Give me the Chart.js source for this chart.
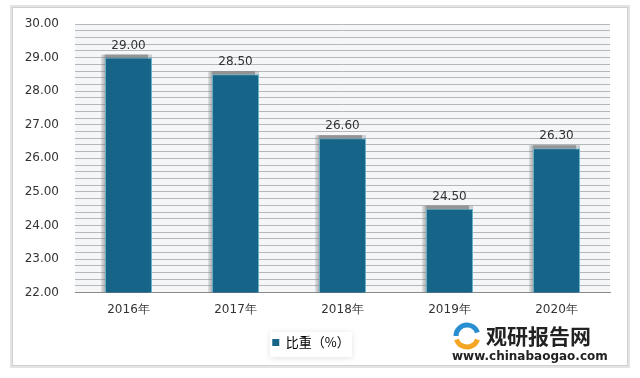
<!DOCTYPE html>
<html><head><meta charset="utf-8">
<script src="https://cdn.jsdelivr.net/npm/chart.js@4/dist/chart.umd.min.js"></script>
<style>html,body{margin:0;padding:0;background:#fff}#wrap{width:640px;height:378px}</style>
</head><body><div id="wrap"><canvas id="c" width="640" height="378"></canvas></div>
<script>
const categories = ['2016年','2017年','2018年','2019年','2020年'];
const shareValues = [29.00, 28.50, 26.60, 24.50, 26.30];
const seriesName = '比重（%）';
const yMin = 22, yMax = 30;

const FONT = '"DejaVu Sans", Verdana, sans-serif';

const framePlugin = {
  id: 'frame',
  beforeDraw(chart) {
    const ctx = chart.ctx;
    ctx.save();
    ctx.fillStyle = '#ffffff';
    ctx.fillRect(0, 0, 640, 378);
    ctx.strokeStyle = '#e4e4e4';
    ctx.lineWidth = 3;
    ctx.strokeRect(11.5, 6.5, 617, 360);
    ctx.strokeStyle = '#d0d0d0';
    ctx.lineWidth = 1;
    ctx.strokeRect(12.5, 7.5, 615, 358);
    const a = chart.chartArea;
    ctx.fillStyle = '#f4f6f8';
    ctx.fillRect(a.left, a.top, a.right - a.left, a.bottom - a.top);
    ctx.shadowColor = 'rgba(0,0,0,0.12)';
    ctx.shadowBlur = 6;
    ctx.shadowOffsetY = 1;
    ctx.fillStyle = '#ffffff';
    ctx.fillRect(270, 332, 82, 25);
    ctx.restore();
  },
  beforeDatasetsDraw(chart) {
    const ctx = chart.ctx;
    const meta = chart.getDatasetMeta(0);
    const bottom = chart.chartArea.bottom;
    ctx.save();
    meta.data.forEach(bar => {
      const w = bar.width;
      const x0 = bar.x - w / 2 - 4, y0 = bar.y - 3;
      const h = bottom - y0;
      const g = ctx.createLinearGradient(x0, 0, x0 + 5, 0);
      g.addColorStop(0, 'rgba(140,140,140,0.2)');
      g.addColorStop(1, 'rgba(100,100,100,0.6)');
      ctx.fillStyle = g;
      ctx.fillRect(x0, y0, w, h);
      ctx.fillStyle = 'rgba(130,130,130,0.35)';
      ctx.fillRect(x0 + 4, y0, w, 3);
    });
    ctx.restore();
  },
  afterDatasetsDraw(chart) {
    const ctx = chart.ctx;
    ctx.save();
    ctx.font = '12px ' + FONT;
    ctx.fillStyle = '#333333';
    ctx.textAlign = 'center';
    ctx.textBaseline = 'bottom';
    const meta = chart.getDatasetMeta(0);
    meta.data.forEach((bar, i) => {
      ctx.fillText(shareValues[i].toFixed(2), bar.x, bar.y - 6);
    });
    ctx.restore();
  },
  afterDraw(chart) {
    const ctx = chart.ctx;
    ctx.save();
    ctx.lineWidth = 5;
    ctx.strokeStyle = '#2a8fd0';
    ctx.beginPath(); ctx.arc(467, 336, 11, Math.PI * 1.0, Math.PI * 1.9); ctx.stroke();
    ctx.strokeStyle = '#f5a623';
    ctx.beginPath(); ctx.arc(467, 336, 11, Math.PI * 0.1, Math.PI * 0.9); ctx.stroke();
    ctx.fillStyle = '#222';
    ctx.font = 'bold 21px "Noto Sans CJK SC", sans-serif';
    ctx.textBaseline = 'middle';
    ctx.textAlign = 'left';
    ctx.fillText('观研报告网', 486, 336);
    ctx.font = 'bold 12px ' + FONT;
    ctx.fillText('www.chinabaogao.com', 452, 357);
    ctx.restore();
  }
};

new Chart(document.getElementById('c'), {
  type: 'bar',
  data: {
    labels: categories,
    datasets: [{
      label: seriesName,
      data: shareValues,
      backgroundColor: '#176489',
      borderColor: '#6ab3cc',
      borderWidth: 1,
      barPercentage: 0.44,
      categoryPercentage: 1.0
    }]
  },
  options: {
    responsive: false,
    animation: false,
    devicePixelRatio: 1,
    layout: { padding: { left: 12, right: 30, top: 24, bottom: 19 } },
    scales: {
      x: {
        grid: { display: false, drawTicks: false },
        border: { display: true, color: '#8a8a8a', width: 1 },
        ticks: { color: '#333', font: { family: FONT, size: 12 }, padding: 10 }
      },
      y: {
        min: yMin, max: yMax,
        afterFit(s) { s.width = 63; },
        grid: { display: false },
        border: { display: false },
        ticks: { stepSize: 1, color: '#333', padding: 8, font: { family: FONT, size: 12 },
          callback: v => Number(v).toFixed(2) }
      },
      y2: {
        min: yMin, max: yMax,
        position: 'right',
        afterFit(s) { s.width = 0; },
        display: true,
        grid: { color: '#b4b8bd', lineWidth: 1, drawTicks: false },
        border: { display: false },
        ticks: { display: false, stepSize: 0.2 }
      }
    },
    plugins: {
      legend: {
        position: 'bottom',
        labels: {
          boxWidth: 7, boxHeight: 7, color: '#333',
          font: { family: '"Noto Sans CJK SC", ' + FONT, size: 13 },
          padding: 9,
          generateLabels(chart) {
            return [{ text: seriesName, fillStyle: '#176489', strokeStyle: '#176489', lineWidth: 0, datasetIndex: 0 }];
          }
        }
      },
      tooltip: { enabled: false }
    }
  },
  plugins: [framePlugin]
});
</script></body></html>
